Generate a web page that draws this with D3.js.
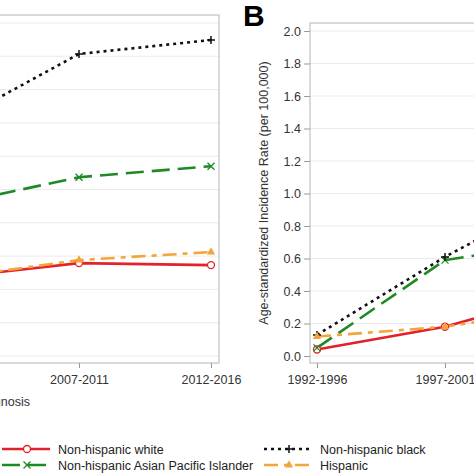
<!DOCTYPE html>
<html>
<head>
<meta charset="utf-8">
<script src="https://cdn.jsdelivr.net/npm/d3@7"></script>
<style>
  body { margin: 0; background: #fff; }
  svg { display: block; font-family: "Liberation Sans", Arial, sans-serif; }
</style>
</head>
<body>
<svg></svg>
<script>
// periods of diagnosis (x categories)
var periods = ["1992-1996", "1997-2001", "2002-2006", "2007-2011", "2012-2016"];

// panel A rates (only the right part of the panel is visible)
var whiteA = [null, null, 2.34, 2.79, 2.73];
var blackA = [null, null, 6.91, 9.07, 9.49];
var apiA = [null, null, 4.52, 5.37, 5.70];
var hispA = [null, null, 2.33, 2.88, 3.12];

// panel B rates (only the left part of the panel is visible)
var whiteB = [0.04, 0.18, 0.40, null, null];
var blackB = [0.13, 0.61, 1.03, null, null];
var apiB = [0.05, 0.59, 0.71, null, null];
var hispB = [0.12, 0.18, 0.30, null, null];

var ticksA = [0, 1, 2, 3, 4, 5, 6, 7, 8, 9, 10];
var ticksB = [0, 0.2, 0.4, 0.6, 0.8, 1.0, 1.2, 1.4, 1.6, 1.8, 2.0];

var groups = ["Non-hispanic white", "Non-hispanic black", "Non-hispanic Asian Pacific Islander", "Hispanic"];

var style = {
    "Non-hispanic white": { color: "#e4202a", dash: null, marker: "circle" },
    "Non-hispanic black": { color: "#111111", dash: "3,4", marker: "plus" },
    "Non-hispanic Asian Pacific Islander": { color: "#1d8a24", dash: "18,8", marker: "x" },
    "Hispanic": { color: "#f3a43a", dash: "14,6,5,6", marker: "triangle" }
};

var svg = d3.select("svg")
    .attr("width", 474)
    .attr("height", 474);

svg.append("rect")
    .attr("width", 474)
    .attr("height", 474)
    .attr("fill", "#fff");

function marker(g, type, color) {
    if (type == "circle") {
        g.append("circle").attr("r", 3.5).attr("fill", "#fff").attr("stroke", color).attr("stroke-width", 1.3);
    } else if (type == "plus") {
        g.append("path").attr("d", "M-4,0H4M0,-4V4").attr("stroke", color).attr("stroke-width", 1.5);
    } else if (type == "x") {
        g.append("path").attr("d", "M-3.5,-3.5L3.5,3.5M-3.5,3.5L3.5,-3.5").attr("stroke", color).attr("stroke-width", 1.3);
    } else {
        g.append("path").attr("d", d3.symbol().type(d3.symbolTriangle).size(30)()).attr("fill", color);
    }
}

function panel(opts) {
    var x = d3.scalePoint().domain(periods).range(opts.xRange);
    var y = d3.scaleLinear().domain(opts.yDomain).range(opts.yRange);

    var g = svg.append("g");

    // grid
    g.selectAll(".grid")
        .data(opts.ticks)
        .enter()
        .append("line")
        .attr("x1", opts.left)
        .attr("x2", opts.right)
        .attr("y1", function(d) { return y(d); })
        .attr("y2", function(d) { return y(d); })
        .attr("stroke", "#ebebeb")
        .attr("stroke-width", 1);

    // frame
    g.append("rect")
        .attr("x", opts.left)
        .attr("y", opts.top)
        .attr("width", opts.right - opts.left)
        .attr("height", opts.bottom - opts.top)
        .attr("fill", "none")
        .attr("stroke", "#b5b5b5")
        .attr("stroke-width", 1);

    var xAxis = g.append("g")
        .attr("transform", "translate(0," + opts.bottom + ")")
        .call(d3.axisBottom(x).tickSize(5).tickPadding(7));

    var yAxis = g.append("g")
        .attr("transform", "translate(" + opts.left + ",0)")
        .call(d3.axisLeft(y).tickValues(opts.ticks).tickFormat(d3.format(".1f")).tickSize(6).tickPadding(3));

    [xAxis, yAxis].forEach(function(a) {
        a.select(".domain").remove();
        a.selectAll(".tick line").attr("stroke", "#9a9a9a");
        a.selectAll(".tick text")
            .attr("fill", "#333")
            .attr("font-size", "12.5px")
            .attr("font-family", "Liberation Sans, Arial, sans-serif");
    });

    // ticks that fall outside the cropped picture are not drawn
    xAxis.selectAll(".tick").filter(function(d) { return x(d) < 0 || x(d) > 474; }).remove();
    if (opts.left < 0) yAxis.remove();

    var line = d3.line()
        .defined(function(d) { return d != null; })
        .x(function(d, i) { return x(periods[i]); })
        .y(function(d) { return y(d); });

    opts.series.forEach(function(s) {
        var st = style[s.name];
        g.append("path")
            .attr("d", line(s.values))
            .attr("fill", "none")
            .attr("stroke", st.color)
            .attr("stroke-width", 2.6)
            .attr("stroke-dasharray", st.dash);
    });

    opts.series.forEach(function(s) {
        var st = style[s.name];
        s.values.forEach(function(v, i) {
            if (v == null) return;
            var m = g.append("g").attr("transform", "translate(" + x(periods[i]) + "," + y(v) + ")");
            marker(m, st.marker, st.color);
        });
    });

    return g;
}

panel({
    left: -370, right: 219, top: 15, bottom: 363,
    xRange: [79 - 3 * 132, 211],
    yDomain: [0, 10], yRange: [356, 23],
    ticks: ticksA,
    series: [
        { name: groups[0], values: whiteA },
        { name: groups[2], values: apiA },
        { name: groups[1], values: blackA },
        { name: groups[3], values: hispA }
    ]
});

panel({
    left: 310, right: 700, top: 23, bottom: 363,
    xRange: [317, 317 + 4 * 128],
    yDomain: [0, 2], yRange: [356, 31],
    ticks: ticksB,
    series: [
        { name: groups[0], values: whiteB },
        { name: groups[2], values: apiB },
        { name: groups[1], values: blackB },
        { name: groups[3], values: hispB }
    ]
});

// x axis title of panel A (cut off at the left)
svg.append("text")
    .attr("x", 30)
    .attr("y", 406)
    .attr("text-anchor", "end")
    .attr("font-size", "12.5px")
    .attr("fill", "#333")
    .text("Year of Diagnosis");

// y axis title of panel B
svg.append("text")
    .attr("transform", "translate(268,193) rotate(-90)")
    .attr("text-anchor", "middle")
    .attr("font-size", "12.5px")
    .attr("fill", "#333")
    .text("Age-standardized Incidence Rate (per 100,000)");

// panel letter
svg.append("text")
    .attr("x", 243)
    .attr("y", 26)
    .attr("font-size", "30px")
    .attr("font-weight", "bold")
    .attr("fill", "#000")
    .text("B");

// legend
var legendItems = [
    { name: groups[0], x: 2, y: 449 },
    { name: groups[2], x: 2, y: 465 },
    { name: groups[1], x: 264, y: 449 },
    { name: groups[3], x: 264, y: 465 }
];

var legend = svg.selectAll(".legend")
    .data(legendItems)
    .enter()
    .append("g")
    .attr("transform", function(d) { return "translate(" + d.x + "," + d.y + ")"; });

legend.each(function(d) {
    var st = style[d.name];
    var g = d3.select(this);
    g.append("line")
        .attr("x1", 0).attr("x2", 48)
        .attr("stroke", st.color)
        .attr("stroke-width", 2.6)
        .attr("stroke-dasharray", st.dash);
    var m = g.append("g").attr("transform", "translate(25,0)");
    marker(m, st.marker, st.color);
    g.append("text")
        .attr("x", 56)
        .attr("y", 4.5)
        .attr("font-size", "12.5px")
        .attr("fill", "#222")
        .text(d.name);
});
</script>
</body>
</html>
